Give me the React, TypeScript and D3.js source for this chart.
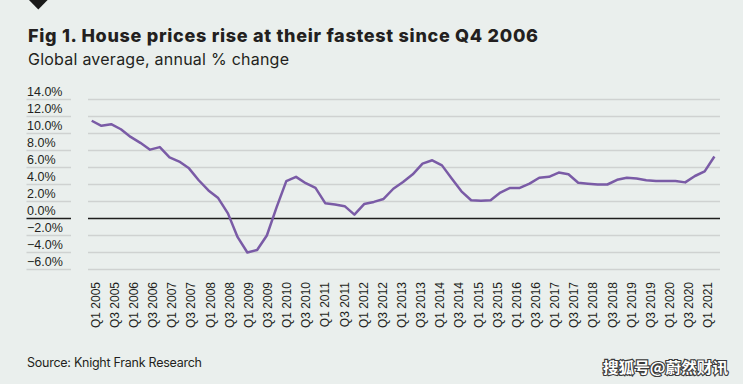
import React from "react";
import * as d3 from "d3";

const W = 743;
const H = 384;

const years = d3.range(2005, 2022);
const quarters: string[] = [];
years.forEach((y) => ["Q1", "Q2", "Q3", "Q4"].forEach((q) => quarters.push(`${q} ${y}`)));
const categories = quarters.slice(0, 65); // Q1 2005 .. Q1 2021

const values = [
  11.5, 10.9, 11.1, 10.5, 9.6, 8.9, 8.1, 8.4, 7.2, 6.7,
  5.9, 4.5, 3.3, 2.4, 0.6, -2.2, -4.0, -3.7, -2.0, 1.3,
  4.4, 4.9, 4.15, 3.6, 1.8, 1.65, 1.45, 0.45, 1.7, 1.95,
  2.3, 3.5, 4.3, 5.2, 6.45, 6.85, 6.25, 4.7, 3.2, 2.15,
  2.1, 2.15, 3.05, 3.6, 3.6, 4.1, 4.8, 4.9, 5.4, 5.2,
  4.2, 4.1, 4.0, 4.0, 4.55, 4.8, 4.7, 4.5, 4.4, 4.4,
  4.4, 4.25, 5.0, 5.55, 7.3,
];

const tickLabels = [
  "Q1 2005", "Q3 2005", "Q1 2006", "Q3 2006", "Q1 2007", "Q3 2007", "Q1 2008", "Q3 2008",
  "Q1 2009", "Q3 2009", "Q1 2010", "Q3 2010", "Q1 2011", "Q3 2011", "Q1 2012", "Q3 2012",
  "Q1 2013", "Q3 2013", "Q1 2014", "Q3 2014", "Q1 2015", "Q3 2015", "Q1 2016", "Q3 2016",
  "Q1 2017", "Q3 2017", "Q1 2018", "Q3 2018", "Q1 2019", "Q3 2019", "Q1 2020", "Q3 2020",
  "Q1 2021",
];

const yTicks = [-6, -4, -2, 0, 2, 4, 6, 8, 10, 12, 14];

const title = "Fig 1. House prices rise at their fastest since Q4 2006";
const subtitle = "Global average, annual % change";
const source = "Source: Knight Frank Research";
const watermark = "搜狐号@蔚然财讯";

const BG = "rgb(234,239,237)";
const GRID = "#cfd2d1";
const INK = "#231f20";
const LINE = "#7a5ba6";
const FONT = "'Liberation Sans', Arial, sans-serif";
const TFONT = "Inter, 'Liberation Sans', sans-serif";

export default function App() {
  const x = d3.scalePoint<string>().domain(categories).range([91.7, 714.4]);
  const xl = d3.scalePoint<string>().domain(tickLabels).range([95.5, 708]);
  const y = d3.scaleLinear().domain([-6, 14]).range([269.5, 99.5]);

  const line = d3
    .line<number>()
    .x((_, i) => x(categories[i]) as number)
    .y((d) => y(d));

  const fmt = d3.format(".1f");

  return (
    <svg
      width={W}
      height={H}
      style={{ position: "absolute", left: 0, top: 0, display: "block" }}
    >
      <rect width={W} height={H} fill={BG} />
      <path d="M28,-1 L48.6,-1 L38.3,9.4 Z" fill="#1a1a1a" />
      <text x={28} y={42} fontFamily={TFONT} fontWeight={800} fontSize={18} fill={INK} textLength={510} lengthAdjust="spacing">
        {title}
      </text>
      <text x={28} y={65} fontFamily={TFONT} fontSize={16} fill={INK} textLength={261} lengthAdjust="spacing">
        {subtitle}
      </text>

      {yTicks.map((t) => (
        <g key={t}>
          <line x1={26.5} x2={71} y1={y(t)} y2={y(t)} stroke={t === 0 ? "#1e1e1e" : GRID} strokeWidth={t === 0 ? 1.6 : 1.3} />
          <line x1={88} x2={720} y1={y(t)} y2={y(t)} stroke={t === 0 ? "#1e1e1e" : GRID} strokeWidth={t === 0 ? 1.6 : 1.3} />
          <text x={27} y={y(t) - 4} fontFamily={FONT} fontSize={12.5} fill={INK}>
            {fmt(t)}%
          </text>
        </g>
      ))}

      <path d={line(values) ?? ""} fill="none" stroke={LINE} strokeWidth={2.5} strokeLinejoin="round" />

      {tickLabels.map((l) => (
        <text
          key={l}
          transform={`translate(${xl(l)},282) rotate(-90)`}
          textAnchor="end"
          dy="0.35em"
          fontFamily={FONT}
          fontSize={12}
          fill={INK}
        >
          {l}
        </text>
      ))}

      <text x={27} y={367} fontFamily={TFONT} fontSize={12.5} fill={INK} textLength={175} lengthAdjust="spacing">
        {source}
      </text>

      <text
        x={603}
        y={373}
        fontFamily="'Noto Sans CJK SC', sans-serif"
        fontWeight={700}
        fontSize={15}
        fill="#ffffff"
        stroke="#3a3a3a"
        strokeWidth={2.2}
        paintOrder="stroke"
        textLength={125}
        lengthAdjust="spacingAndGlyphs"
      >
        {watermark}
      </text>
    </svg>
  );
}
